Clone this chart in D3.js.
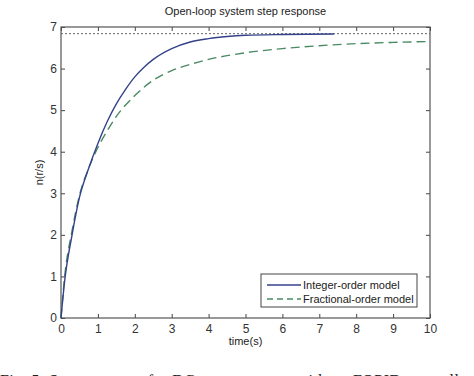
<!DOCTYPE html>
<html>
<head>
<meta charset="utf-8">
<script src="https://cdn.jsdelivr.net/npm/d3@7"></script>
<style>
  body { margin: 0; background: #fff; }
  svg { display: block; }
  .tick text { font-family: "Liberation Sans", Arial, sans-serif; font-size: 12px; fill: #333; }
</style>
</head>
<body>
<div id="chart"></div>
<script>
// Values
const timeInt = [0, 0.1, 0.3, 0.5, 0.75, 1, 1.25, 1.5, 1.75, 2, 2.25, 2.5, 3, 3.5, 4, 4.5, 5, 6, 7.4];
const integerOrder = [0, 0.9, 2.0, 2.9, 3.6, 4.2, 4.72, 5.15, 5.5, 5.8, 6.03, 6.22, 6.48, 6.64, 6.72, 6.77, 6.8, 6.82, 6.83];

const timeFrac = [0, 0.1, 0.3, 0.5, 0.75, 1, 1.25, 1.5, 2, 2.5, 3, 3.5, 4, 5, 6, 7, 8, 9, 10];
const fractionalOrder = [0, 1.0, 2.1, 2.95, 3.6, 4.1, 4.5, 4.85, 5.35, 5.72, 5.95, 6.1, 6.22, 6.38, 6.48, 6.55, 6.6, 6.63, 6.65];

const steadyState = 6.84;
const xTicks = [0, 1, 2, 3, 4, 5, 6, 7, 8, 9, 10];
const yTicks = [0, 1, 2, 3, 4, 5, 6, 7];
const seriesNames = ["Integer-order model", "Fractional-order model"];

const W = 474, H = 376;
const margin = {top: 27, right: 44, bottom: 58, left: 61};
const width = W - margin.left - margin.right;
const height = H - margin.top - margin.bottom;

const svg = d3.select("#chart").append("svg")
    .attr("width", W)
    .attr("height", H);

const g = svg.append("g")
    .attr("transform", `translate(${margin.left},${margin.top})`);

const x = d3.scaleLinear().domain([0, 10]).range([0, width]);
const y = d3.scaleLinear().domain([0, 7]).range([height, 0]);

// axes with inward ticks on all four sides
g.append("g")
    .attr("transform", `translate(0,${height})`)
    .call(d3.axisBottom(x).tickValues(xTicks).tickFormat(d3.format("d")).tickSize(-4).tickPadding(6));
g.append("g")
    .call(d3.axisTop(x).tickValues(xTicks).tickSize(-4).tickFormat(""));
g.append("g")
    .call(d3.axisLeft(y).tickValues(yTicks).tickFormat(d3.format("d")).tickSize(-4).tickPadding(4));
g.append("g")
    .attr("transform", `translate(${width},0)`)
    .call(d3.axisRight(y).tickValues(yTicks).tickSize(-4).tickFormat(""));

g.selectAll(".domain").remove();
g.selectAll(".tick line").attr("stroke", "#444");

g.append("rect")
    .attr("width", width)
    .attr("height", height)
    .attr("fill", "none")
    .attr("stroke", "#555")
    .attr("stroke-width", 1.2);

// steady-state dotted line
g.append("line")
    .attr("x1", x(0)).attr("x2", x(10))
    .attr("y1", y(steadyState)).attr("y2", y(steadyState))
    .attr("stroke", "#666")
    .attr("stroke-width", 1)
    .attr("stroke-dasharray", "2,2");

const line = d3.line().curve(d3.curveMonotoneX);

g.append("path")
    .datum(timeFrac.map((t, i) => [x(t), y(fractionalOrder[i])]))
    .attr("d", line)
    .attr("fill", "none")
    .attr("stroke", "#4a8a62")
    .attr("stroke-width", 1.4)
    .attr("stroke-dasharray", "9,5");

g.append("path")
    .datum(timeInt.map((t, i) => [x(t), y(integerOrder[i])]))
    .attr("d", line)
    .attr("fill", "none")
    .attr("stroke", "#34428a")
    .attr("stroke-width", 1.4);

// labels
g.append("text")
    .attr("x", width / 2)
    .attr("y", -12)
    .attr("text-anchor", "middle")
    .style("font-family", "Liberation Sans, Arial, sans-serif")
    .style("font-size", "11px")
    .attr("fill", "#222")
    .text("Open-loop system step response");

g.append("text")
    .attr("x", width / 2)
    .attr("y", height + 27)
    .attr("text-anchor", "middle")
    .style("font-family", "Liberation Sans, Arial, sans-serif")
    .style("font-size", "11px")
    .attr("fill", "#222")
    .text("time(s)");

g.append("text")
    .attr("transform", "rotate(-90)")
    .attr("x", -height / 2)
    .attr("y", -18)
    .attr("text-anchor", "middle")
    .style("font-family", "Liberation Sans, Arial, sans-serif")
    .style("font-size", "11px")
    .attr("fill", "#222")
    .text("n(r/s)");

// legend
const legend = svg.append("g").attr("transform", "translate(261,274)");
legend.append("rect")
    .attr("width", 156)
    .attr("height", 33)
    .attr("fill", "#fff")
    .attr("stroke", "#444")
    .attr("stroke-width", 1);

const legStyles = [
    {stroke: "#34428a", dash: null},
    {stroke: "#4a8a62", dash: "6,4"}
];
seriesNames.forEach((name, i) => {
    const row = legend.append("g").attr("transform", `translate(0,${11 + i * 14})`);
    row.append("line")
        .attr("x1", 6).attr("x2", 40)
        .attr("stroke", legStyles[i].stroke)
        .attr("stroke-width", 1.3)
        .attr("stroke-dasharray", legStyles[i].dash);
    row.append("text")
        .attr("x", 42)
        .attr("y", 4)
        .style("font-family", "Liberation Sans, Arial, sans-serif")
        .style("font-size", "11px")
        .attr("fill", "#222")
        .text(name);
});

// caption, mostly cut off at the bottom edge as in the source image
svg.append("text")
    .attr("x", 0)
    .attr("y", 386)
    .style("font-family", "Liberation Serif, serif")
    .style("font-size", "16px")
    .attr("fill", "#222")
    .attr("textLength", 490)
    .attr("lengthAdjust", "spacing")
    .text("Fig. 5.   Step response for DC motor system without FOPID controller in");
</script>
</body>
</html>
